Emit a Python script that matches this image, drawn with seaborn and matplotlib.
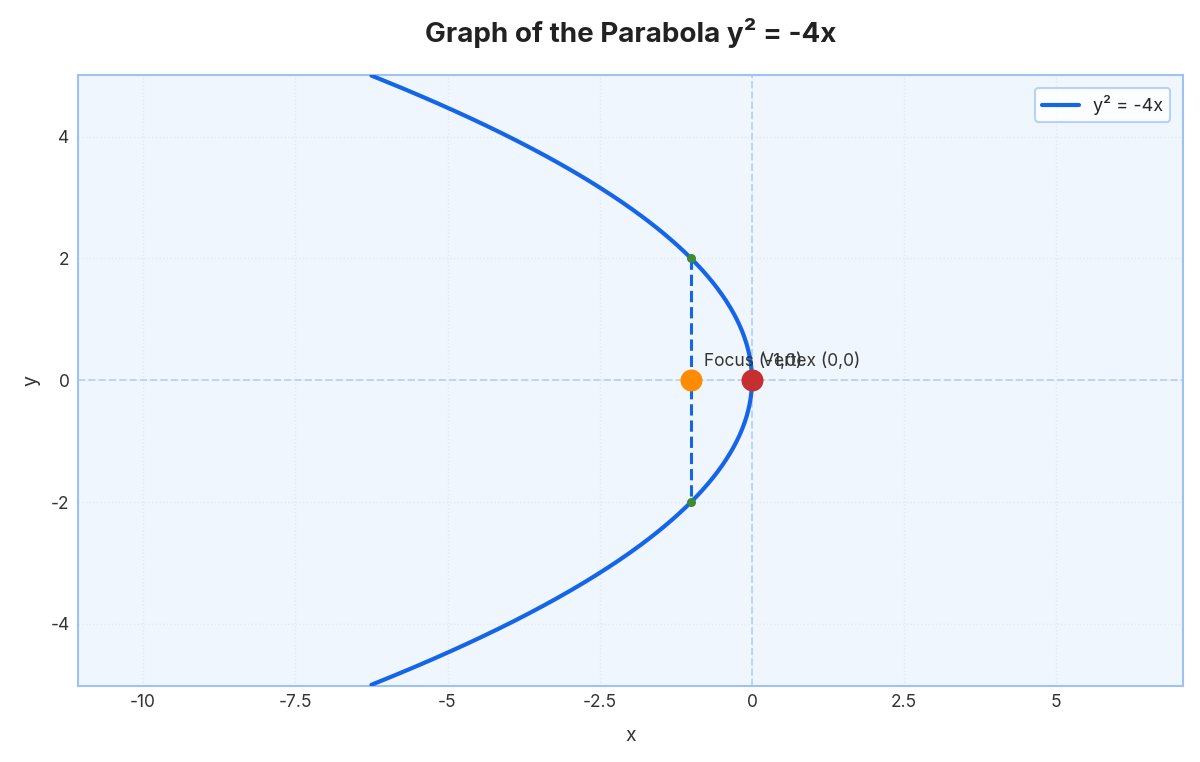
import numpy as np
import matplotlib
matplotlib.use("Agg")
import matplotlib.pyplot as plt
import seaborn as sns
import pandas as pd

# data
y_vals = np.linspace(-5, 5, 401)
x_vals = -(y_vals ** 2) / 4
focus = [-1, 0]
vertex = [0, 0]
latus_x = [-1, -1]
latus_y = [2, -2]
x_ticks = [-10, -7.5, -5, -2.5, 0, 2.5, 5]
x_ticklabels = ["-10", "-7.5", "-5", "-2.5", "0", "2.5", "5"]
y_ticks = [-4, -2, 0, 2, 4]
y_ticklabels = ["-4", "-2", "0", "2", "4"]

sns.set_theme(style="white")
plt.rcParams['font.family'] = ['Inter', 'DejaVu Sans']
plt.rcParams['axes.unicode_minus'] = False

fig = plt.figure(figsize=(12, 7.62), dpi=100)
ax = fig.add_axes([78/1200, 1-686/762, (1183-78)/1200, (686-75)/762])
ax.set_facecolor("#f0f6fd")

df = pd.DataFrame({"x": x_vals, "y": y_vals})
sns.lineplot(data=df, x="x", y="y", sort=False, estimator=None, ax=ax,
             color="#1565e8", lw=3, label="y² = -4x", zorder=3)

ax.axhline(0, color="#bcd4f5", ls="--", lw=1.4, zorder=1)
ax.axvline(0, color="#bcd4f5", ls="--", lw=1.4, zorder=1)

ax.plot(latus_x, latus_y, color="#1565e8", ls="--", lw=2.2, zorder=3)
ax.scatter(latus_x, latus_y, color="#3d8b37", s=30, zorder=4)
ax.scatter([focus[0]], [focus[1]], color="#ff8c00", s=220, zorder=5)
ax.scatter([vertex[0]], [vertex[1]], color="#c62f2f", s=220, zorder=5)

ax.annotate("Focus (-1,0)", xy=(focus[0], focus[1]), xytext=(9, 10), textcoords="offset points", fontsize=12.5, color="#333333")
ax.annotate("Vertex (0,0)", xy=(vertex[0], vertex[1]), xytext=(7, 10), textcoords="offset points", fontsize=12.5, color="#333333")

ax.set_xlim(-11.07, 7.08)
ax.set_ylim(-5.02, 5.01)
ax.set_xticks(x_ticks)
ax.set_xticklabels(x_ticklabels)
ax.set_yticks(y_ticks)
ax.set_yticklabels(y_ticklabels)
ax.tick_params(length=0, labelsize=12.5, colors="#333333", pad=6)
ax.grid(True, color="#e2e9f4", ls=":", lw=1)
for s in ax.spines.values():
    s.set_color("#9ec2f3")
    s.set_linewidth(1.5)

ax.set_xlabel("x", fontsize=14, color="#333333", labelpad=11)
ax.set_ylabel("y", fontsize=14, color="#333333", labelpad=7)
ax.set_title("Graph of the Parabola y² = -4x", fontsize=20, fontweight="bold", color="#222222", pad=24)

leg = ax.legend(loc="upper right", fontsize=13, frameon=True, fancybox=True,
                borderaxespad=0.7)
leg.get_frame().set_edgecolor("#a9c8f5")
leg.get_frame().set_linewidth(1.5)
leg.get_frame().set_facecolor("white")

fig.savefig("out.png", dpi=100)
